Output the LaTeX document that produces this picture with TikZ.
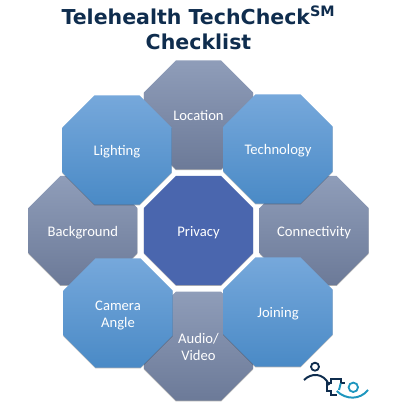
\documentclass[tikz,border=0pt]{standalone}
\usepackage{fontspec}
\setmainfont{Carlito}
\newfontfamily\titlefont{DejaVu Sans}
\usepackage{xcolor}
\usetikzlibrary{positioning, shapes.geometric, shadows}
\definecolor{navy}{RGB}{15,45,78}
\definecolor{teal}{RGB}{30,150,190}
\definecolor{bluetop}{RGB}{118,168,219}
\definecolor{bluebot}{RGB}{74,138,198}
\definecolor{greytop}{RGB}{143,157,185}
\definecolor{greybot}{RGB}{108,122,152}
\definecolor{core}{RGB}{74,102,174}
\tikzset{
  octa/.style={regular polygon, regular polygon sides=8,
    minimum size=2.95cm, inner sep=0pt, align=center, text=white, font=\fontsize{10.4}{12.2}\selectfont,
    text height=10.2pt, text depth=2pt,
    drop shadow={shadow xshift=0pt, shadow yshift=-0.6pt, opacity=0.3, fill=black}},
  greyocta/.style={octa, top color=greytop, bottom color=greybot},
  blueocta/.style={octa, top color=bluetop, bottom color=bluebot},
  twolines/.style={text height=22.5pt, text depth=2pt}
}
\begin{document}
\begin{tikzpicture}[x=0.025cm, y=-0.025cm]
  \useasboundingbox (0,0) rectangle (400,406);
  \node[font=\titlefont\bfseries\fontsize{14.6}{17.8}\selectfont, text=navy, align=center]
    (TT) at (198.5,28) {Telehealth TechCheck\textsuperscript{SM}\\Checklist};

  \node[octa, fill=core] (PV) at (198.5,230.5) {Privacy};
  \node[greyocta, above=0.15cm of PV] (LC) {Location};
  \node[greyocta, twolines, below=0.15cm of PV] (AV) {Audio/\\Video};
  \node[greyocta, left=0.15cm of PV] (BG) {Background};
  \node[greyocta, right=0.15cm of PV] (CN) {Connectivity};
  \node[blueocta] (LT) at (117,150) {Lighting};
  \node[blueocta] (TC) at (278,149) {Technology};
  \node[blueocta, twolines] (CA) at (118,313) {Camera\\Angle};
  \node[blueocta] (JN) at (278,312) {Joining};

  % logo
  \draw[navy, line width=1.3pt] (315,366.7) circle (4);
  \draw[navy, line width=1.4pt] (304,380) .. controls (311,373) and (323,372) .. (329.3,385);
  \draw[navy, line width=1.4pt] (335,379) -- (330.7,379) -- (330.7,383.3) -- (326.7,383.3) -- (326.7,391)
    -- (330.7,391) -- (330.7,395) -- (336.7,395);
  \draw[navy, line width=1.4pt] (335,379) -- (340.7,379) -- (340.7,383.3) -- (345,383.3);
  \draw[teal, line width=1.4pt] (340.7,383.3) -- (339,390);
  \draw[teal, line width=1.3pt] (353.3,387.3) circle (4.7);
  \draw[teal, line width=1.4pt] (336.7,391) .. controls (346,400) and (360,400) .. (368,390);
\end{tikzpicture}
\end{document}
